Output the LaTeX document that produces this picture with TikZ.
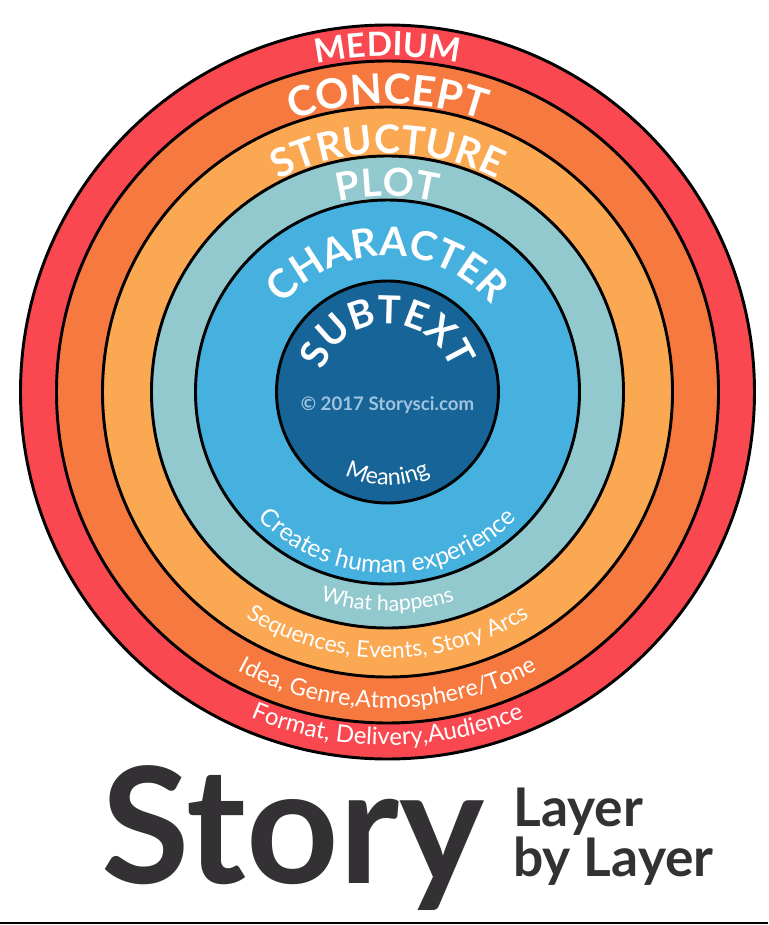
\documentclass[tikz,border=0pt]{standalone}
\usepackage{fontspec}
\setmainfont{Lato}
\usetikzlibrary{decorations.text}

\definecolor{mediumred}{RGB}{249,72,79}
\definecolor{conceptorange}{RGB}{246,122,63}
\definecolor{structureorange}{RGB}{251,168,83}
\definecolor{plotteal}{RGB}{146,201,206}
\definecolor{characterblue}{RGB}{70,176,222}
\definecolor{subtextblue}{RGB}{22,100,152}
\definecolor{copygray}{RGB}{160,196,222}
\definecolor{titlegray}{RGB}{52,49,53}

\tikzset{
	ring/.style={draw=black, line width=2.2pt, fill=#1},
	uptext/.style 2 args={decorate, decoration={text along path, text align=center,
			text={|\fontsize{#1}{#1}\selectfont\bfseries\color{white}|#2}}},
	downtext/.style 2 args={decorate, decoration={text along path, text align=center,
			text={|\fontsize{#1}{#1}\selectfont\color{white}|#2}}},
}

\begin{document}
\begin{tikzpicture}[x=0.75pt,y=0.75pt]
		\useasboundingbox (-387.5,-533) rectangle (380.5,392);
		
		% rings, from the outside in
		\draw [ring=mediumred] (0,0) circle [radius=367];
		\draw [ring=conceptorange] (0,0) circle [radius=331];
		\draw [ring=structureorange] (0,0) circle [radius=285];
		\draw [ring=plotteal] (0,0) circle [radius=236];
		\draw [ring=characterblue] (0,0) circle [radius=192];
		\draw [ring=subtextblue] (0,0) circle [radius=111];
		
		% layer names along the top
		\path [uptext={25}{MEDIUM}] (180:336) arc [start angle=180, end angle=0, radius=336];
		\path [uptext={31}{CONCEPT}] (180:288) arc [start angle=180, end angle=0, radius=288];
		\path [uptext={29.5}{STRUCTURE}] (180:239) arc [start angle=180, end angle=0, radius=239];
		\path [uptext={29}{PLOT}] (180:196) arc [start angle=180, end angle=0, radius=196];
		\path [uptext={30}{CHARACTER}] (180:136) arc [start angle=180, end angle=0, radius=136];
		\path [uptext={29}{SUBTEXT}] (180:68) arc [start angle=180, end angle=0, radius=68];
		
		% what each layer holds, along the bottom
		\path [downtext={18}{Format, Delivery,Audience}] (180:353) arc [start angle=180, end angle=360, radius=353];
		\path [downtext={17.5}{Idea, Genre,Atmosphere/Tone}] (180:316) arc [start angle=180, end angle=360, radius=316];
		\path [downtext={17}{Sequences, Events, Story Arcs}] (180:266) arc [start angle=180, end angle=360, radius=266];
		\path [downtext={16}{What happens}] (180:219) arc [start angle=180, end angle=360, radius=219];
		\path [downtext={18.5}{Creates human experience}] (180:181) arc [start angle=180, end angle=360, radius=181];
		\path [downtext={17.5}{Meaning}] (180:93) arc [start angle=180, end angle=360, radius=93];
		
		\node (copy) [anchor=base, text=copygray, font=\fontsize{14}{14}\selectfont\bfseries] at (0,-18) {© 2017 Storysci.com};
		
		% title
		\node (story) [anchor=base west, inner sep=0pt, text=titlegray, font=\fontsize{121}{121}\selectfont\bfseries] at (-286,-491) {Story};
		\node (layer) [anchor=base west, inner sep=0pt, text=titlegray, font=\fontsize{40}{40}\selectfont\bfseries] at (125.5,-434) {Layer};
		\node (bylayer) [anchor=base west, inner sep=0pt, text=titlegray, font=\fontsize{40}{40}\selectfont\bfseries] at (125.5,-484) {by Layer};
		
		\draw [line width=1.5pt] (-387.5,-531) -- (380.5,-531);
		
\end{tikzpicture}
\end{document}
